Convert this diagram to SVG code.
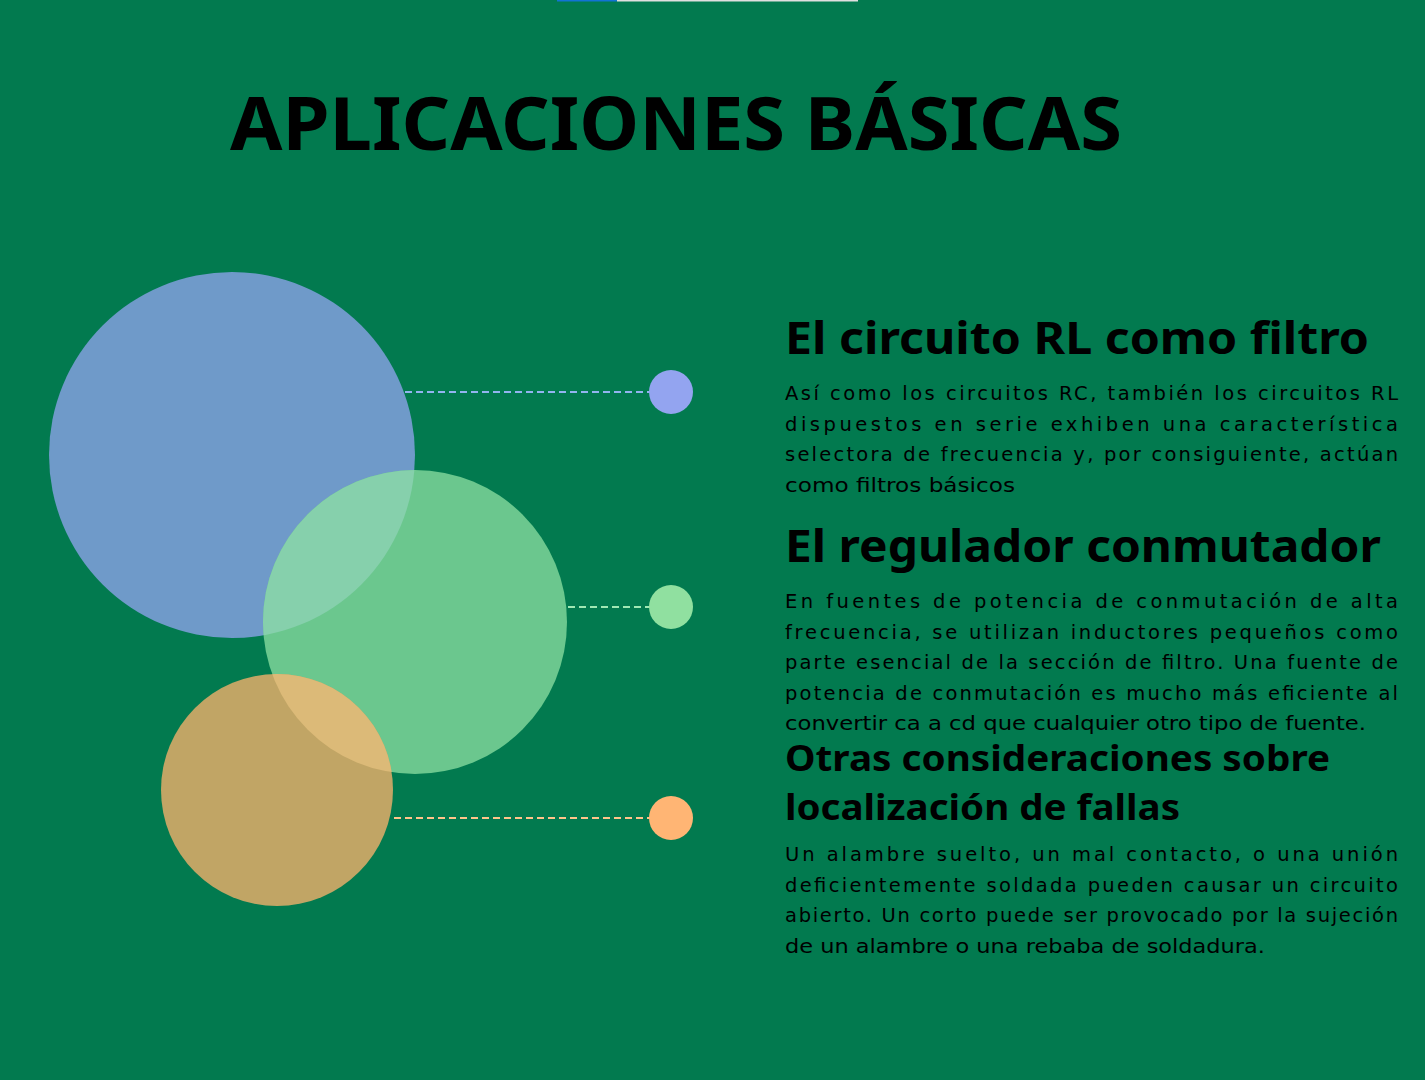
<svg xmlns="http://www.w3.org/2000/svg" width="1425" height="1080" viewBox="0 0 1425 1080">
<style>
.t{font-family:"Noto Sans","Liberation Sans",sans-serif;fill:#000}
.h{font-weight:700;font-size:44px}
.h2{font-weight:700;font-size:35px}
.b{font-size:19.5px;font-family:"DejaVu Sans","Liberation Sans",sans-serif}
.c{stroke-width:2;stroke-dasharray:7 4;fill:none}
</style>
<defs>
<clipPath id="cg"><circle cx="415" cy="622" r="152"/></clipPath>
</defs>
<rect width="1425" height="1080" fill="#027a4f"/>
<rect x="557" y="0" width="60" height="1.5" fill="#1273d4"/>
<rect x="617" y="0" width="241" height="1.5" fill="#e0e0e0"/>
<text class="t" x="230" y="150" font-size="74" font-weight="700" textLength="892" lengthAdjust="spacingAndGlyphs">APLICACIONES BÁSICAS</text>
<g id="connectors">
<line class="c" x1="405" y1="392" x2="650" y2="392" stroke="#93b4f0"/>
<line class="c" x1="568" y1="607" x2="650" y2="607" stroke="#a0e8b4"/>
<line class="c" x1="394" y1="818" x2="650" y2="818" stroke="#ffc58a"/>
</g>
<g id="circles">
<circle cx="232" cy="455" r="183" fill="#6f9ac9"/>
<circle cx="415" cy="622" r="152" fill="#6bc78e"/>
<circle cx="232" cy="455" r="183" fill="#86d0ac" clip-path="url(#cg)"/>
<circle cx="277" cy="790" r="116" fill="#c1a565"/>
<circle cx="277" cy="790" r="116" fill="#dcba78" clip-path="url(#cg)"/>
</g>
<g id="dot1"><circle cx="671" cy="392" r="22" fill="#93a4f0"/></g>
<g id="dot2"><circle cx="671" cy="607" r="22" fill="#90e0a0"/></g>
<g id="dot3"><circle cx="671" cy="818" r="22" fill="#ffb574"/></g>
<g id="item1" class="t">
<text class="h" x="785" y="354" textLength="584" lengthAdjust="spacingAndGlyphs">El circuito RL como filtro</text>
<text class="b" x="785" y="400" textLength="613" lengthAdjust="spacing">Así como los circuitos RC, también los circuitos RL</text>
<text class="b" x="785" y="431" textLength="613" lengthAdjust="spacing">dispuestos en serie exhiben una característica</text>
<text class="b" x="785" y="461" textLength="613" lengthAdjust="spacing">selectora de frecuencia y, por consiguiente, actúan</text>
<text class="b" x="785" y="492" textLength="230" lengthAdjust="spacingAndGlyphs">como filtros básicos</text>
</g>
<g id="item2" class="t">
<text class="h" x="785" y="562" textLength="596" lengthAdjust="spacingAndGlyphs">El regulador conmutador</text>
<text class="b" x="785" y="608" textLength="613" lengthAdjust="spacing">En fuentes de potencia de conmutación de alta</text>
<text class="b" x="785" y="639" textLength="613" lengthAdjust="spacing">frecuencia, se utilizan inductores pequeños como</text>
<text class="b" x="785" y="669" textLength="613" lengthAdjust="spacing">parte esencial de la sección de filtro. Una fuente de</text>
<text class="b" x="785" y="700" textLength="613" lengthAdjust="spacing">potencia de conmutación es mucho más eficiente al</text>
<text class="b" x="785" y="730" textLength="581" lengthAdjust="spacingAndGlyphs">convertir ca a cd que cualquier otro tipo de fuente.</text>
</g>
<g id="item3" class="t">
<text class="h2" x="785" y="771" textLength="545" lengthAdjust="spacingAndGlyphs">Otras consideraciones sobre</text>
<text class="h2" x="785" y="820" textLength="395" lengthAdjust="spacingAndGlyphs">localización de fallas</text>
<text class="b" x="785" y="861" textLength="613" lengthAdjust="spacing">Un alambre suelto, un mal contacto, o una unión</text>
<text class="b" x="785" y="892" textLength="613" lengthAdjust="spacing">deficientemente soldada pueden causar un circuito</text>
<text class="b" x="785" y="922" textLength="613" lengthAdjust="spacing">abierto. Un corto puede ser provocado por la sujeción</text>
<text class="b" x="785" y="953" textLength="480" lengthAdjust="spacingAndGlyphs">de un alambre o una rebaba de soldadura.</text>
</g>
</svg>
